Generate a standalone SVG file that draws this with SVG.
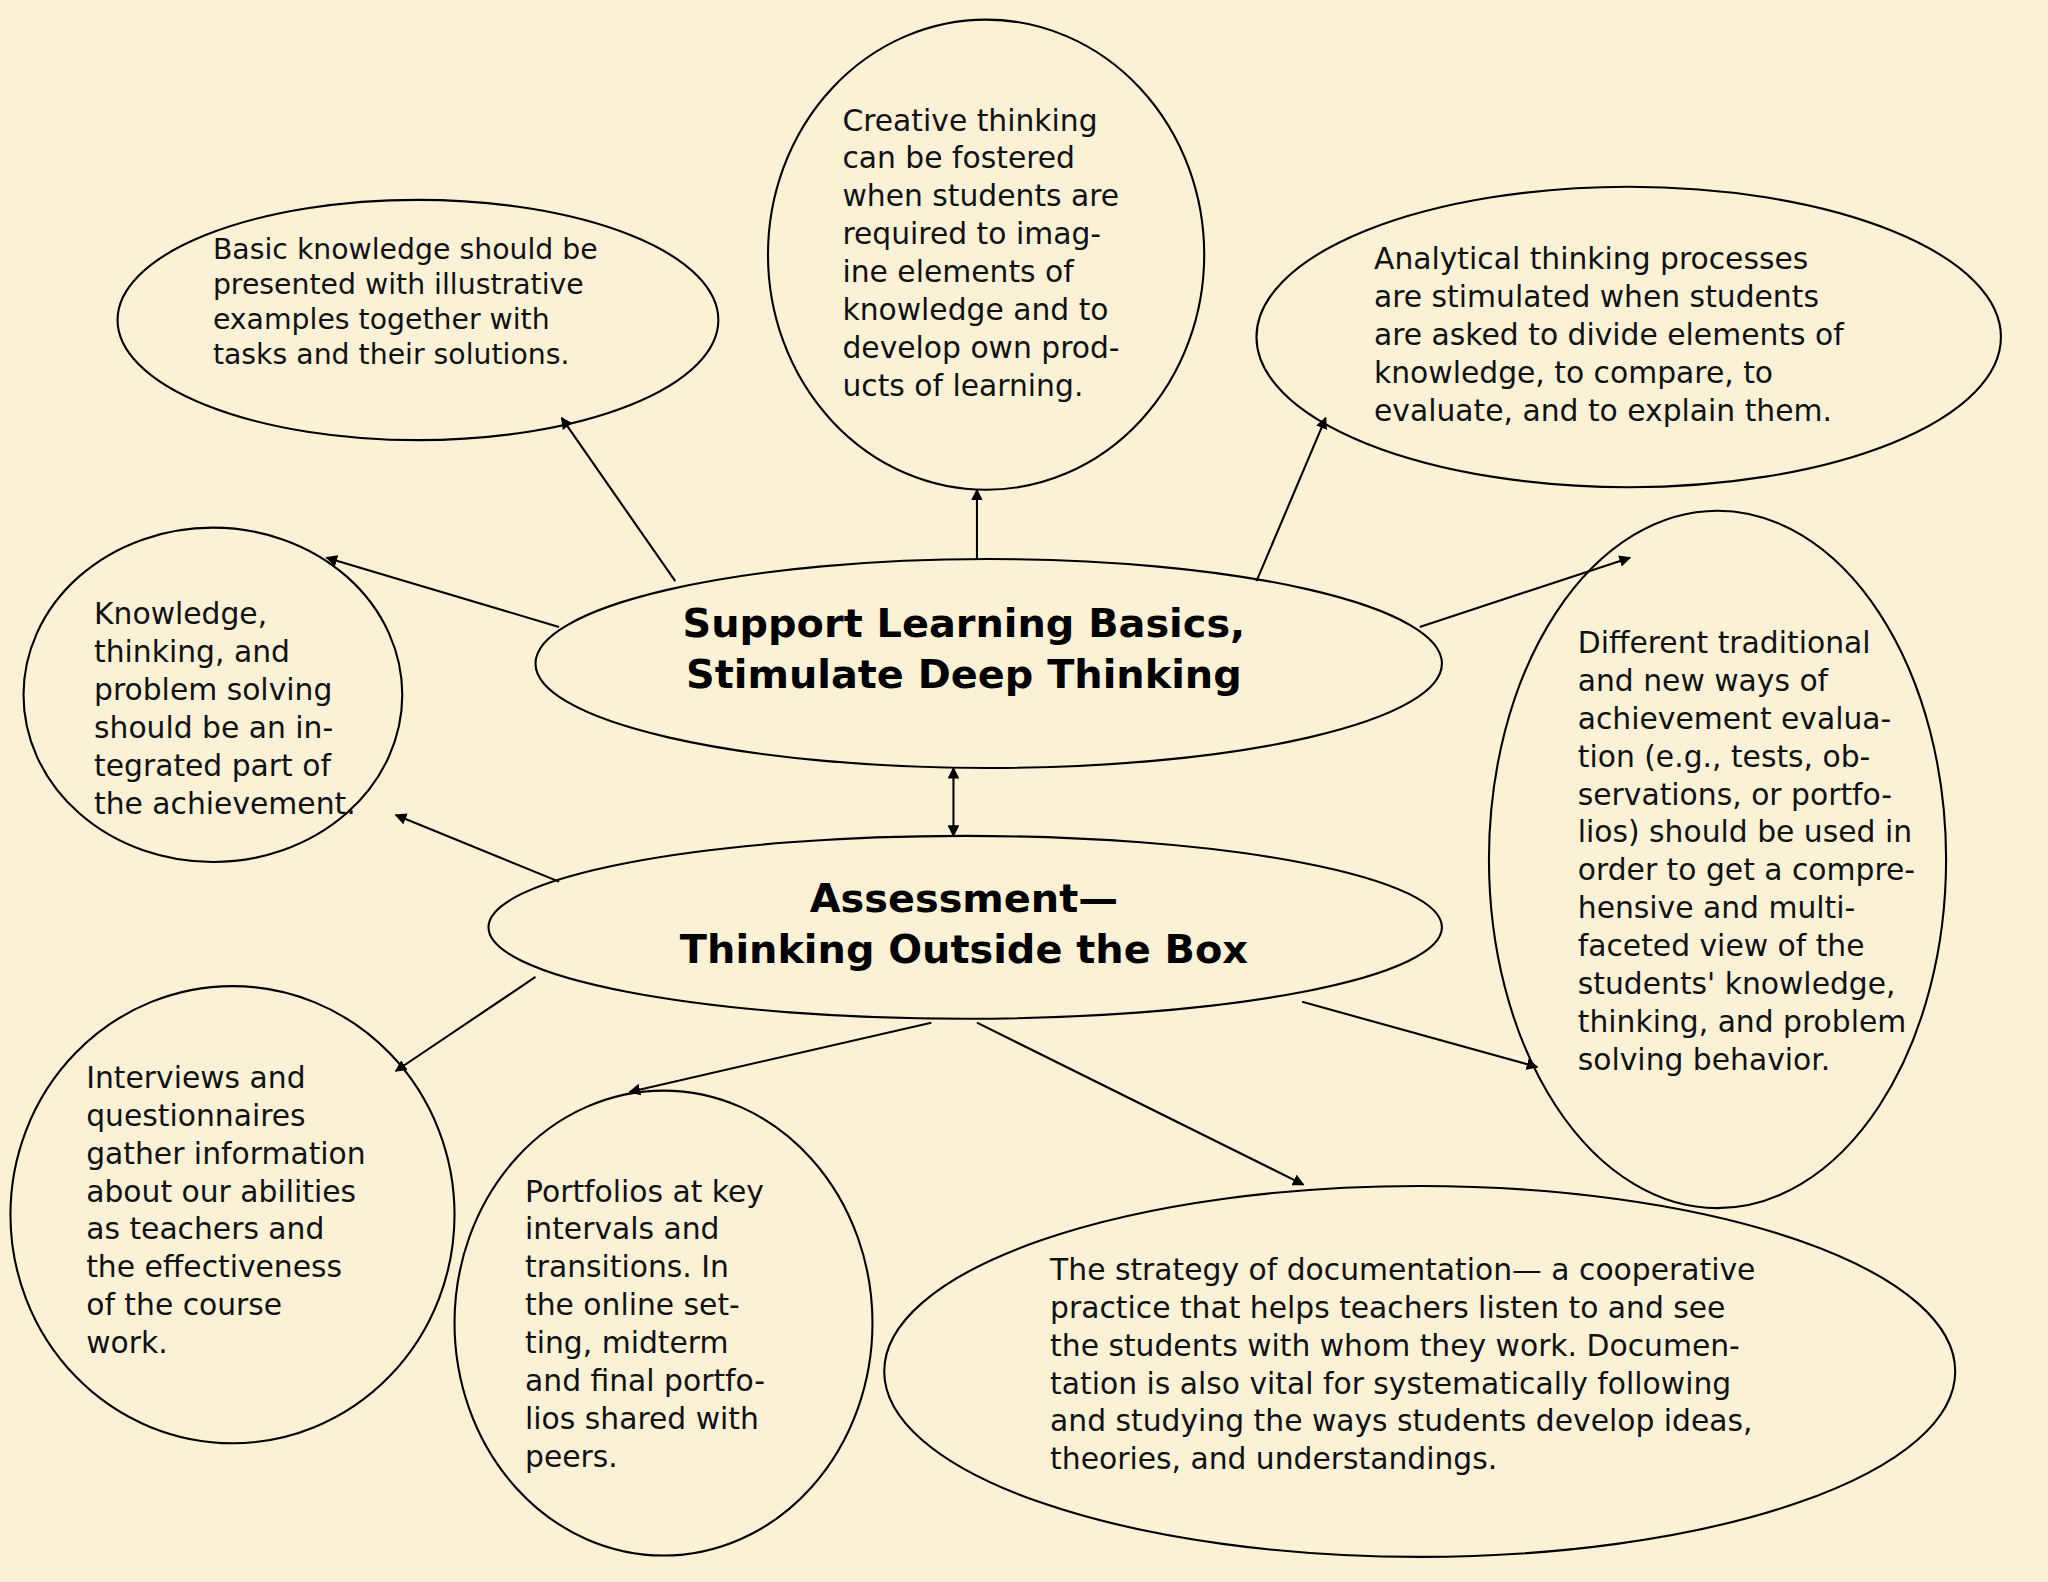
<svg xmlns="http://www.w3.org/2000/svg" width="2048" height="1582" viewBox="0 0 2048 1582">
<defs>
<marker id="ah" viewBox="0 0 10 10" refX="9" refY="5" markerWidth="9" markerHeight="9" orient="auto-start-reverse" markerUnits="userSpaceOnUse"><path d="M0,0 L10,5 L0,10 z" fill="#000"/></marker>
<style>
ellipse{fill:none;stroke:#000;stroke-width:1.6}
.t{font-family:"DejaVu Sans",Verdana,sans-serif;font-size:22.8px;fill:#111}
.h{font-family:"DejaVu Sans",Verdana,sans-serif;font-size:30.5px;font-weight:bold;fill:#000;text-anchor:middle}
line{stroke:#000;stroke-width:1.6;marker-end:url(#ah)}
</style>
</defs>
<rect width="2048" height="1582" fill="#fbf1d7"/>
<g transform="scale(1.3061)">
<g id="n1"><ellipse cx="320" cy="245" rx="230" ry="92"/><text class="t" style="font-size:21.7px"><tspan x="163" y="198">Basic knowledge should be</tspan><tspan x="163" y="225">presented with illustrative</tspan><tspan x="163" y="252">examples together with</tspan><tspan x="163" y="279">tasks and their solutions.</tspan></text></g>
<g id="n2"><ellipse cx="755" cy="195" rx="167" ry="180"/><text class="t"><tspan x="645" y="100">Creative thinking</tspan><tspan x="645" y="129">can be fostered</tspan><tspan x="645" y="158">when students are</tspan><tspan x="645" y="187">required to imag-</tspan><tspan x="645" y="216">ine elements of</tspan><tspan x="645" y="245">knowledge and to</tspan><tspan x="645" y="274">develop own prod-</tspan><tspan x="645" y="303">ucts of learning.</tspan></text></g>
<g id="n3"><ellipse cx="1247" cy="258" rx="285" ry="115"/><text class="t"><tspan x="1052" y="206">Analytical thinking processes</tspan><tspan x="1052" y="235">are stimulated when students</tspan><tspan x="1052" y="264">are asked to divide elements of</tspan><tspan x="1052" y="293">knowledge, to compare, to</tspan><tspan x="1052" y="322">evaluate, and to explain them.</tspan></text></g>
<g id="n4"><ellipse cx="163" cy="532" rx="145" ry="128"/><text class="t"><tspan x="72" y="478">Knowledge,</tspan><tspan x="72" y="507">thinking, and</tspan><tspan x="72" y="536">problem solving</tspan><tspan x="72" y="565">should be an in-</tspan><tspan x="72" y="594">tegrated part of</tspan><tspan x="72" y="623">the achievement.</tspan></text></g>
<g id="n5"><ellipse cx="757" cy="508" rx="347" ry="80"/><text class="h"><tspan x="738" y="488">Support Learning Basics,</tspan><tspan x="738" y="527">Stimulate Deep Thinking</tspan></text></g>
<g id="n6"><ellipse cx="1315" cy="658" rx="175" ry="267"/><text class="t"><tspan x="1208" y="500">Different traditional</tspan><tspan x="1208" y="529">and new ways of</tspan><tspan x="1208" y="558">achievement evalua-</tspan><tspan x="1208" y="587">tion (e.g., tests, ob-</tspan><tspan x="1208" y="616">servations, or portfo-</tspan><tspan x="1208" y="645">lios) should be used in</tspan><tspan x="1208" y="674">order to get a compre-</tspan><tspan x="1208" y="703">hensive and multi-</tspan><tspan x="1208" y="732">faceted view of the</tspan><tspan x="1208" y="761">students' knowledge,</tspan><tspan x="1208" y="790">thinking, and problem</tspan><tspan x="1208" y="819">solving behavior.</tspan></text></g>
<g id="n7"><ellipse cx="739" cy="710" rx="365" ry="70"/><text class="h"><tspan x="738" y="698">Assessment—</tspan><tspan x="738" y="737">Thinking Outside the Box</tspan></text></g>
<g id="n8"><ellipse cx="178" cy="930" rx="170" ry="175"/><text class="t"><tspan x="66" y="833">Interviews and</tspan><tspan x="66" y="862">questionnaires</tspan><tspan x="66" y="891">gather information</tspan><tspan x="66" y="920">about our abilities</tspan><tspan x="66" y="949">as teachers and</tspan><tspan x="66" y="978">the effectiveness</tspan><tspan x="66" y="1007">of the course</tspan><tspan x="66" y="1036">work.</tspan></text></g>
<g id="n9"><ellipse cx="508" cy="1013" rx="160" ry="178"/><text class="t"><tspan x="402" y="920">Portfolios at key</tspan><tspan x="402" y="949">intervals and</tspan><tspan x="402" y="978">transitions. In</tspan><tspan x="402" y="1007">the online set-</tspan><tspan x="402" y="1036">ting, midterm</tspan><tspan x="402" y="1065">and final portfo-</tspan><tspan x="402" y="1094">lios shared with</tspan><tspan x="402" y="1123">peers.</tspan></text></g>
<g id="n10"><ellipse cx="1087" cy="1050" rx="410" ry="142"/><text class="t"><tspan x="804" y="980">The strategy of documentation— a cooperative</tspan><tspan x="804" y="1009">practice that helps teachers listen to and see</tspan><tspan x="804" y="1038">the students with whom they work. Documen-</tspan><tspan x="804" y="1067">tation is also vital for systematically following</tspan><tspan x="804" y="1096">and studying the ways students develop ideas,</tspan><tspan x="804" y="1125">theories, and understandings.</tspan></text></g>
<g id="connectors">
<line x1="517" y1="445" x2="430" y2="320"/>
<line x1="748" y1="428" x2="748" y2="375"/>
<line x1="962" y1="445" x2="1015" y2="320"/>
<line x1="428" y1="480" x2="250" y2="427"/>
<line x1="1087" y1="480" x2="1248" y2="427"/>
<line x1="730" y1="640" x2="730" y2="588" style="marker-start:url(#ah)"/>
<line x1="428" y1="675" x2="303" y2="624"/>
<line x1="410" y1="748" x2="303" y2="820"/>
<line x1="713" y1="783" x2="482" y2="836"/>
<line x1="748" y1="783" x2="998" y2="907"/>
<line x1="997" y1="767" x2="1177" y2="817"/>
</g>
</g>
</svg>
